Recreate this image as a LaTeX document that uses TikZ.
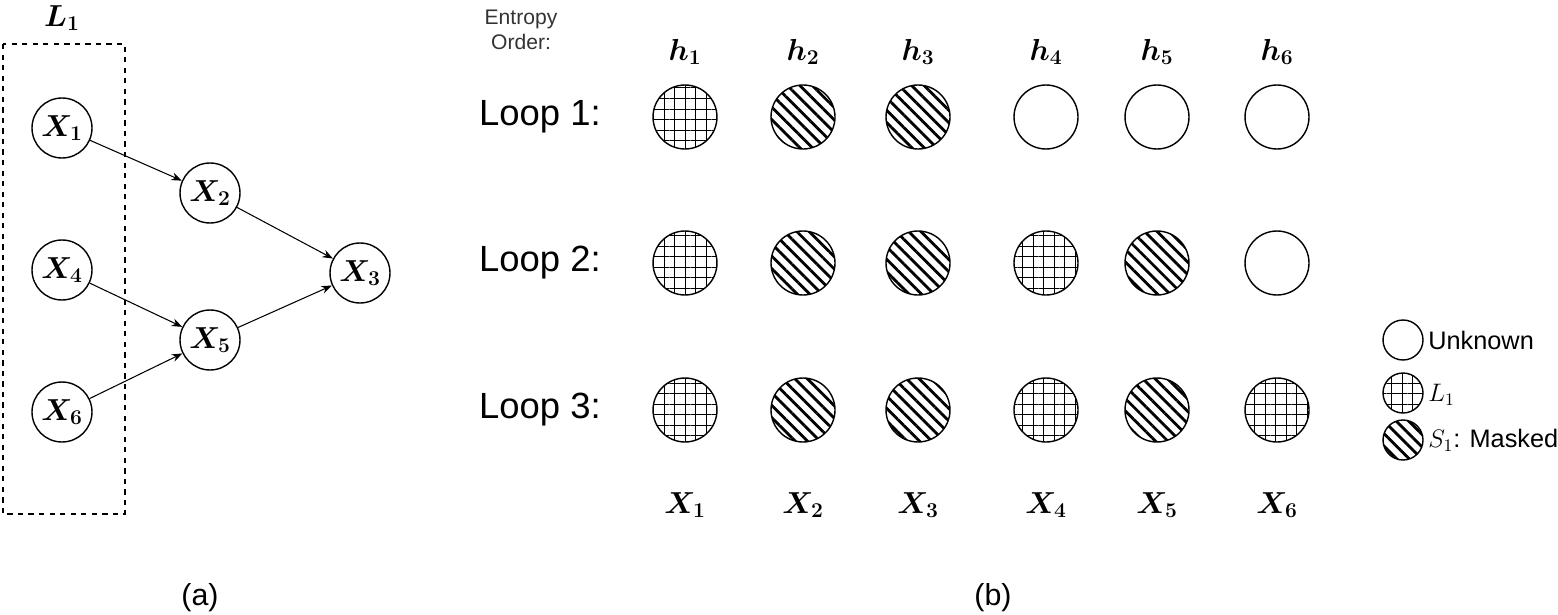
\documentclass[tikz,border=0pt]{standalone}
\usepackage{fontspec}
\usepackage{amsmath,bm}
\setmainfont{Liberation Sans}
\usetikzlibrary{patterns.meta,arrows.meta}
\newcommand{\bv}[2]{$\bm{#1}_{\bm{#2}}$}
\begin{document}
\begin{tikzpicture}[x=0.02cm,y=-0.02cm,
 nd/.style={circle,draw,thick,minimum size=1.2cm,inner sep=0pt,font=\LARGE},
 cc/.style={circle,draw,thick,minimum size=1.28cm,inner sep=0pt},
 gridp/.style={postaction={pattern={Lines[angle=0,distance=6pt,line width=0.5pt]}},postaction={pattern={Lines[angle=90,distance=6pt,line width=0.5pt]}}},
 hatch/.style={pattern={Lines[angle=-45,distance=5pt,line width=1.6pt]}},
 lg/.style={circle,draw,thick,minimum size=0.8cm,inner sep=0pt},
 arr/.style={-{Stealth[length=6pt]},semithick}]
\useasboundingbox (0,0) rectangle (1558,615);
\draw[dashed,semithick] (3,44) rectangle (125,514);
\node[font=\LARGE] (L) at (62,18) {\bv{L}{1}};
\node[nd] (x1) at (62,128) {\bv{X}{1}};
\node[nd] (x2) at (210,193) {\bv{X}{2}};
\node[nd] (x4) at (62,270) {\bv{X}{4}};
\node[nd] (x5) at (210,340) {\bv{X}{5}};
\node[nd] (x6) at (62,412) {\bv{X}{6}};
\node[nd] (x3) at (360,273) {\bv{X}{3}};
\draw[arr] (x1)--(x2); \draw[arr] (x2)--(x3); \draw[arr] (x4)--(x5);
\draw[arr] (x6)--(x5); \draw[arr] (x5)--(x3);
\node[font=\LARGE] (a) at (200,598) {(a)};
\node[font=\LARGE] (b) at (993,598) {(b)};
\node[align=center,font=\large,text=black!80,inner sep=0pt] (eo) at (521,30) {Entropy\\Order:};
\foreach \x/\i in {685/1,803/2,918/3,1046/4,1157/5,1277/6}{
 \node[font=\LARGE] (h\i) at (\x,52) {\bv{h}{\i}};
 \node[font=\LARGE] (bx\i) at (\x,505) {\bv{X}{\i}};}
\foreach \y/\l in {117/1,263/2,410/3}
 \node[font=\huge] (lp\l) at (540,\y) {Loop \l:};
% row 1
\node[cc,gridp] (c11) at (685,117) {};
\node[cc,hatch] (c12) at (803,117) {};
\node[cc,hatch] (c13) at (918,117) {};
\node[cc] (c14) at (1046,117) {};
\node[cc] (c15) at (1157,117) {};
\node[cc] (c16) at (1277,117) {};
% row 2
\node[cc,gridp] (c21) at (685,263) {};
\node[cc,hatch] (c22) at (803,263) {};
\node[cc,hatch] (c23) at (918,263) {};
\node[cc,gridp] (c24) at (1046,263) {};
\node[cc,hatch] (c25) at (1157,263) {};
\node[cc] (c26) at (1277,263) {};
% row 3
\node[cc,gridp] (c31) at (685,410) {};
\node[cc,hatch] (c32) at (803,410) {};
\node[cc,hatch] (c33) at (918,410) {};
\node[cc,gridp] (c34) at (1046,410) {};
\node[cc,hatch] (c35) at (1157,410) {};
\node[cc,gridp] (c36) at (1277,410) {};
% legend
\node[lg] (g1) at (1403,340) {};
\node[lg,gridp] (g2) at (1403,393) {};
\node[lg,hatch] (g3) at (1403,440) {};
\node[anchor=west,font=\Large,inner sep=0pt] (t1) at (1428,340) {Unknown};
\node[anchor=west,font=\Large,inner sep=0pt] (t2) at (1428,395) {$L_1$};
\node[anchor=west,font=\Large,inner sep=0pt] (t3) at (1428,440) {$S_1$: Masked};
\end{tikzpicture}
\end{document}
